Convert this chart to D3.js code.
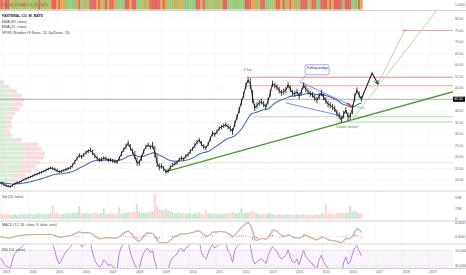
<!DOCTYPE html>
<html><head><meta charset="utf-8">
<script src="https://cdn.jsdelivr.net/npm/d3@7"></script>
<style>body{margin:0;background:#fff;} svg{display:block;font-family:"Liberation Sans",Arial,sans-serif;}</style>
</head><body><svg id="c" width="466" height="275"></svg>
<script>
// ---------------- DATA ----------------
const startYear = 2002.875; // first monthly sample (Nov 2002)
const closes = [
 8.8,8.6,8.0,7.5,7.2,7.1,7.8,8.5,8.8,9.1,9.6,10.2,
 10.6,11.0,11.3,11.8,12.3,12.6,13.0,13.4,13.8,14.3,14.8,15.2,
 15.0,14.6,14.0,13.5,13.8,14.2,14.6,15.0,15.3,16.5,18.0,19.5,
 20.8,20.0,21.0,22.0,22.6,23.0,21.8,20.5,19.5,18.7,18.9,19.6,
 19.2,18.6,18.7,18.3,18.0,17.8,19.5,21.5,23.2,24.5,26.0,24.0,
 22.2,20.0,17.5,17.5,20.0,22.5,24.5,25.2,24.3,25.0,22.0,17.5,
 15.5,16.0,15.0,13.5,13.8,15.5,16.5,17.0,17.5,19.0,19.5,19.0,
 20.5,21.0,22.5,23.5,25.0,26.5,27.4,25.5,24.5,24.0,25.5,28.0,
 30.4,29.8,31.0,32.5,33.0,33.6,34.0,33.0,32.5,31.0,34.5,37.4,
 40.5,44.0,47.0,51.0,53.5,52.0,46.0,41.3,42.5,43.5,44.0,43.0,
 41.7,44.5,47.8,52.0,51.0,50.4,49.0,47.8,48.5,49.0,51.3,49.5,
 47.8,47.5,48.3,46.5,48.5,51.3,49.5,48.5,47.5,47.0,45.5,44.8,
 46.5,47.8,46.0,44.5,43.0,42.5,41.7,41.0,39.0,38.0,36.0,38.5,
 40.4,37.4,38.0,41.0,46.0,49.0,47.0,45.1
];
const highs = [
 9.4,9.3,8.9,8.2,7.8,7.7,8.2,8.9,9.3,9.6,10.1,10.6,
 11.1,11.5,11.9,12.3,12.8,13.2,13.6,14.0,14.4,14.9,15.4,15.9,
 15.8,15.4,14.9,14.2,14.4,14.8,15.2,15.6,16.0,17.2,18.7,20.2,
 21.6,21.0,21.8,22.8,23.4,24.0,23.2,21.6,20.6,19.6,19.8,20.4,
 20.2,19.6,19.6,19.2,18.8,18.6,20.4,22.4,24.2,25.8,27.2,25.6,
 23.6,22.6,19.8,18.8,21.0,23.4,25.4,26.2,25.4,26.6,24.8,21.0,
 17.2,17.2,16.2,14.8,14.9,16.4,17.4,17.9,18.5,19.8,20.4,19.9,
 21.3,22.0,23.4,24.4,26.0,27.4,28.4,27.0,25.6,25.0,26.6,29.0,
 31.4,30.8,32.0,33.4,34.0,34.6,35.0,34.2,33.6,32.6,35.8,38.6,
 41.8,45.4,48.4,52.4,54.6,54.2,49.2,43.2,43.8,44.8,45.4,44.4,
 43.2,46.0,49.4,53.2,52.4,51.8,50.4,49.2,49.8,50.4,52.6,51.2,
 49.2,48.8,49.6,48.0,49.8,52.4,51.0,49.8,48.8,48.2,47.0,46.2,
 47.8,49.0,47.6,46.0,44.4,43.8,43.0,42.4,40.6,39.4,37.6,40.0,
 41.6,39.4,39.2,42.8,47.6,50.2,48.6,46.4
];
const lows = [
 8.3,8.1,7.6,7.1,6.8,6.7,7.0,7.7,8.3,8.6,9.0,9.6,
 10.0,10.4,10.8,11.2,11.6,12.0,12.4,12.8,13.2,13.6,14.1,14.6,
 14.4,13.9,13.3,12.9,13.1,13.6,14.0,14.4,14.7,15.4,16.8,18.4,
 19.6,19.2,20.0,21.0,21.6,22.0,20.8,19.4,18.6,17.8,18.0,18.8,
 18.4,17.8,17.9,17.5,17.2,17.0,18.4,20.4,22.2,23.4,24.6,22.8,
 21.2,19.0,16.2,16.2,18.4,21.2,23.4,24.2,23.2,23.6,19.8,15.6,
 14.2,14.9,13.8,12.8,12.9,14.4,15.6,16.2,16.7,18.0,18.7,18.2,
 19.5,20.2,21.4,22.6,24.0,25.4,26.2,24.6,23.4,23.0,24.6,26.8,
 29.0,28.8,30.0,31.4,32.0,32.6,33.0,32.0,31.0,29.6,33.0,36.0,
 39.0,42.4,45.6,49.4,52.0,49.6,43.4,40.0,41.0,42.2,42.8,41.6,
 40.4,42.8,46.2,50.4,49.8,49.0,47.6,46.6,47.2,47.8,49.8,48.2,
 46.6,46.2,47.0,45.2,47.0,49.8,48.2,47.2,46.2,45.8,44.2,43.4,
 45.0,46.4,44.6,43.0,41.6,41.2,40.4,39.6,37.6,36.6,35.0,36.8,
 38.8,35.8,36.2,38.6,44.0,47.4,45.6,44.0
];
const volumes = [ // millions of shares (weekly-equivalent)
 45,14,11,12,13,10,11,12,10,13,11,12,
 11,12,13,10,12,11,14,12,11,13,12,14,
 33,13,14,12,11,13,12,14,13,15,14,16,
 31,14,13,15,12,13,14,15,12,13,14,25,
 13,12,14,13,12,14,28,13,15,14,16,15,
 17,16,36,18,15,16,14,15,17,18,60,30,
 24,22,20,25,21,18,17,15,14,16,13,14,
 12,13,14,12,15,13,16,14,12,23,13,14,
 12,13,11,12,13,12,14,13,15,18,14,13,
 15,25,14,16,15,17,20,16,13,12,11,13,
 12,14,13,12,11,10,12,11,10,11,12,10,
 11,10,12,11,10,12,11,10,11,9,12,11,
 10,12,13,36,14,12,13,11,15,14,16,13,
 14,15,31,17,20,16,14,13
];
const stripCodes =
 "rrorrgoggogo"+"goggogrgoggo"+"rroroogggggo"+"rggogrrrorog"+"rorroggggrro"+
 "rrgggogorrrr"+"rorogggogoog"+"gggggrrorggo"+"gggogrrggggg"+"gggrrroogorr"+
 "ggggorrorgor"+"ogogrrrgorrg"+"grrrororrrrg"+"rrrgggro";
const vpUp   = [120,220,300,390,430,480,520,540,500,450,260,140,120,140,130,150,180,230,270,280,260,200,110,50];
const vpDown = [100,180,250,310,360,390,440,440,410,380,220,120,100,120,110,130,150,200,230,240,220,170,90,40];
const priceTicks = [10,15,20,25,30,35,40,45,50,55,60,65,70,75,80];
const yearTicks = [2003,2004,2005,2006,2007,2008,2009,2010,2011,2012,2013,2014,2015,2016,2017,2018,2019];
const lastPrice = 45.10;
const hLines = [ // [price, fromYear, color]
 [54.6, 2012.15, "#f4a3a3"], [51.0, 2012.15, "#f4a3a3"], [75.0, 2017.99, "#f4a3a3"],
 [37.5, 2012.4, "#b9dcb0"], [35.2, 2015.5, "#b9dcb0"], [17.5, 2002.8, "#ece3c8"]
];
const trendMain = [[2009.09,13.5],[2019.9,48.4]];
const wedgeUpper = [[2014.16,52.7],[2015.96,43.0]];
const wedgeLower = [[2013.63,43.5],[2015.73,37.8]];
const redMark = [[2015.93,43.5],[2016.11,41.7]];
const forecast = [[2016.458,45.1],[2016.86,56.5],[2017.08,51.7]];
const grayProj = [[2017.08,51.7],[2018.1,75.5]];
const greenProj = [[2016.04,35.2],[2019.3,83.9]];

// ---------------- SETUP ----------------
const svg = d3.select("#c");
const PR = 453;
const times = closes.map((_, i) => startYear + i / 12);
const xs = d3.scaleLinear().domain([2003, 2019]).range([2.7, 429.1]);
const yP = d3.scaleLinear().domain([10, 80]).range([180, 19]);
const yV = d3.scaleLinear().domain([0, 50]).range([219, 198]);
const yM = d3.scaleLinear().domain([0, 4]).range([236.7, 223]);
const yR = d3.scaleLinear().domain([30, 70]).range([266, 250.5]);

const defs = svg.append("defs");
function clip(id, y0, y1) {
  defs.append("clipPath").attr("id", id).append("rect")
    .attr("x", 0).attr("y", y0).attr("width", PR).attr("height", y1 - y0);
}
clip("cMain", 11, 190.5); clip("cVol", 191.5, 220.5); clip("cMacd", 221.5, 243.5); clip("cRsi", 244.5, 268);
function marker(id, color) {
  defs.append("marker").attr("id", id).attr("viewBox", "0 0 10 10").attr("refX", 9).attr("refY", 5)
    .attr("markerWidth", 4).attr("markerHeight", 4).attr("orient", "auto-start-reverse")
    .append("path").attr("d", "M0,0 L10,5 L0,10").attr("fill", "none").attr("stroke", color).attr("stroke-width", 1.6);
}
marker("arBlack", "#222"); marker("arGray", "#aaa");

// indicators (weekly periods applied to monthly samples)
const WPM = 4.33;
function ema(arr, n) { const a = 1 - Math.pow(1 - 2 / (n + 1), WPM); let e = arr[0]; return arr.map((v, i) => i === 0 ? e : (e = e + a * (v - e))); }
const ema89 = ema(closes, 89);
const e12 = ema(closes, 12), e26 = ema(closes, 26);
const macd = e12.map((v, i) => v - e26[i]);
const signal = ema(macd, 9);
const hist = macd.map((v, i) => v - signal[i]);
function rsi(arr, a) {
  let up = 0.4, dn = 0.4; const out = [50];
  for (let i = 1; i < arr.length; i++) {
    const d = arr[i] - arr[i - 1];
    up += a * (Math.max(d, 0) - up); dn += a * (Math.max(-d, 0) - dn);
    out.push(100 - 100 / (1 + up / dn));
  }
  return out;
}
const rsiV = rsi(closes, 1 / 4.5);

// ---------------- GRID ----------------
const grid = svg.append("g").attr("stroke", "#f0f2f5").attr("stroke-width", 0.6);
priceTicks.forEach(p => grid.append("line").attr("x1", 0).attr("x2", PR).attr("y1", yP(p)).attr("y2", yP(p)));
yearTicks.forEach(yr => grid.append("line").attr("x1", xs(yr)).attr("x2", xs(yr)).attr("y1", 11).attr("y2", 268));

// ---------------- TOP STRIP ----------------
const stripCol = { r: "#e4675f", o: "#e6a84a", g: "#95c97d" };
svg.append("g").selectAll("rect").data(times).join("rect")
  .attr("x", d => xs(d - 1 / 24)).attr("width", d => xs(d + 1 / 24) - xs(d - 1 / 24) + 0.2)
  .attr("y", 0).attr("height", 9.5)
  .attr("fill", (d, i) => stripCol[stripCodes[i]] || stripCol.o);

// ---------------- MAIN PANE ----------------
const main = svg.append("g").attr("clip-path", "url(#cMain)");
// VPVR
const pmin = d3.min(closes), pmax = d3.max(closes), rowH = (pmax - pmin) / vpUp.length;
const vpX = d3.scaleLinear().domain([0, 1000]).range([0, 46]);
vpUp.forEach((u, i) => {
  const y0 = yP(pmin + (i + 1) * rowH), y1 = yP(pmin + i * rowH);
  main.append("rect").attr("x", 0).attr("y", y0 + 0.3).attr("width", vpX(u)).attr("height", y1 - y0 - 0.6).attr("fill", "rgba(150,205,150,0.35)");
  main.append("rect").attr("x", vpX(u)).attr("y", y0 + 0.3).attr("width", vpX(vpDown[i])).attr("height", y1 - y0 - 0.6).attr("fill", "rgba(240,160,160,0.35)");
});
// horizontal levels
hLines.forEach(([p, from, col]) => main.append("line").attr("x1", xs(from)).attr("x2", PR)
  .attr("y1", yP(p)).attr("y2", yP(p)).attr("stroke", col).attr("stroke-width", 1.1));
main.append("line").attr("x1", 0).attr("x2", PR).attr("y1", yP(lastPrice)).attr("y2", yP(lastPrice))
  .attr("stroke", "#a8a8a8").attr("stroke-width", 0.9);

const lineP = d3.line().x(d => xs(d[0])).y(d => yP(d[1]));
main.append("path").attr("d", lineP(trendMain)).attr("stroke", "#4e9a3a").attr("stroke-width", 1.3).attr("fill", "none");
main.append("path").attr("d", lineP(greenProj)).attr("stroke", "#a9d08e").attr("stroke-width", 0.8).attr("fill", "none");
main.append("path").attr("d", lineP(grayProj)).attr("stroke", "#bbb").attr("stroke-width", 0.8).attr("fill", "none").attr("marker-end", "url(#arGray)");
main.append("path").attr("d", lineP(wedgeUpper)).attr("stroke", "#7f8cf2").attr("stroke-width", 1).attr("fill", "none");
main.append("path").attr("d", lineP(wedgeLower)).attr("stroke", "#7f8cf2").attr("stroke-width", 1).attr("fill", "none");

// EMA and price
const series = times.map((t, i) => [t, closes[i]]);
main.append("path").attr("d", lineP(times.map((t, i) => [t, ema89[i]])))
  .attr("stroke", "#4a6cb3").attr("stroke-width", 1.1).attr("fill", "none");
main.append("g").selectAll("line").data(times).join("line")
  .attr("x1", d => xs(d)).attr("x2", d => xs(d))
  .attr("y1", (d, i) => yP(highs[i])).attr("y2", (d, i) => yP(lows[i]))
  .attr("stroke", "#111").attr("stroke-width", 0.8);
main.append("path").attr("d", lineP(series)).attr("stroke", "#111").attr("stroke-width", 0.9).attr("fill", "none").attr("stroke-linejoin", "round");
main.append("path").attr("d", lineP(redMark)).attr("stroke", "#e53935").attr("stroke-width", 1.8).attr("fill", "none");
main.append("path").attr("d", lineP(forecast)).attr("stroke", "#222").attr("stroke-width", 1.1).attr("fill", "none").attr("marker-end", "url(#arBlack)");

// annotations
const ann = svg.append("g").attr("font-size", 3.4);
ann.append("text").attr("x", xs(2012.2)).attr("y", yP(57.6)).attr("text-anchor", "middle").attr("fill", "#e53935").text("3 Top");
ann.append("text").attr("x", xs(2015.93)).attr("y", yP(32.4)).attr("text-anchor", "middle").attr("fill", "#4e9a3a").text("Double bottom");
ann.append("text").attr("x", xs(2016.3)).attr("y", yP(41.0)).attr("fill", "#7a9a70").text("Pivot");
const bx = xs(wedgeUpper[0][0]) + 5, by = yP(wedgeUpper[0][1]) - 17;
ann.append("line").attr("x1", xs(wedgeUpper[0][0])).attr("y1", yP(wedgeUpper[0][1])).attr("x2", bx + 1).attr("y2", by + 10).attr("stroke", "#7f8cf2").attr("stroke-width", 0.7);
ann.append("rect").attr("x", bx).attr("y", by).attr("width", 24).attr("height", 10).attr("rx", 1.5)
  .attr("fill", "#fff").attr("stroke", "#7f8cf2").attr("stroke-width", 0.7);
ann.append("text").attr("x", bx + 2).attr("y", by + 4.5).attr("fill", "#333").text("Falling wedge");

// ---------------- VOLUME ----------------
const vol = svg.append("g").attr("clip-path", "url(#cVol)");
vol.selectAll("rect").data(volumes).join("rect")
  .attr("x", (d, i) => xs(times[i] - 1 / 30)).attr("width", xs(2003 + 1 / 15) - xs(2003))
  .attr("y", d => yV(d)).attr("height", d => yV(0) - yV(d))
  .attr("fill", (d, i) => (i === 0 || closes[i] >= closes[i - 1]) ? "rgba(110,190,130,0.4)" : "rgba(235,130,120,0.35)");

// ---------------- MACD ----------------
const mg = svg.append("g").attr("clip-path", "url(#cMacd)");
mg.selectAll("rect").data(hist).join("rect")
  .attr("x", (d, i) => xs(times[i]) - 0.4).attr("width", 0.8)
  .attr("y", d => Math.min(yM(0), yM(d))).attr("height", d => Math.abs(yM(d) - yM(0)))
  .attr("fill", "#f06292");
const lineM = d3.line().x((d, i) => xs(times[i])).y(d => yM(d));
mg.append("path").attr("d", lineM(macd)).attr("stroke", "#6ec6f5").attr("stroke-width", 0.9).attr("fill", "none");
mg.append("path").attr("d", lineM(signal)).attr("stroke", "#f7a35c").attr("stroke-width", 0.9).attr("fill", "none");

// ---------------- RSI ----------------
const rg = svg.append("g").attr("clip-path", "url(#cRsi)");
rg.append("rect").attr("x", 0).attr("width", PR).attr("y", yR(70)).attr("height", yR(30) - yR(70)).attr("fill", "rgba(156,39,176,0.05)");
[70, 30].forEach(v => rg.append("line").attr("x1", 0).attr("x2", PR).attr("y1", yR(v)).attr("y2", yR(v)).attr("stroke", "#cfc6dc").attr("stroke-width", 0.6).attr("stroke-dasharray", "2,1"));
rg.append("path").attr("d", d3.line().x((d, i) => xs(times[i])).y(d => yR(d))(rsiV))
  .attr("stroke", "#b574d6").attr("stroke-width", 0.9).attr("fill", "none");

// ---------------- SEPARATORS ----------------
[10.5, 191, 221, 244, 268.3].forEach(y => svg.append("line").attr("x1", 0).attr("x2", 466).attr("y1", y).attr("y2", y).attr("stroke", "#d3d3d3").attr("stroke-width", 1.2));

// ---------------- TEXT ----------------
const tx = svg.append("g").attr("font-size", 3.5).attr("fill", "#444");
tx.append("text").attr("x", 2).attr("y", 6.2).attr("fill", "#555").text("DX_14, 0.5604, 0.1, 12, 10, 5");
tx.append("text").attr("x", 2).attr("y", 17).attr("font-weight", "bold").attr("fill", "#222").text("FASTENAL CO, W, BATS");
tx.append("text").attr("x", 2).attr("y", 22.6).text("EMA (89, close)");
tx.append("text").attr("x", 2).attr("y", 28.2).text("EMA (21, close)");
tx.append("text").attr("x", 2).attr("y", 33.8).text("VPVR (Number Of Rows, 24, Up/Down, 70)");
tx.append("text").attr("x", 2).attr("y", 197.5).text("Vol (20, false)");
tx.append("text").attr("x", 2).attr("y", 226).text("MACD (12, 26, close, 9, false, true)");
tx.append("text").attr("x", 2).attr("y", 250.5).text("RSI (14, close)");

const ax = svg.append("g").attr("font-size", 3.3).attr("fill", "#666");
const f2 = d3.format(".2f");
priceTicks.filter(p => Math.abs(p - lastPrice) > 2).forEach(p => ax.append("text").attr("x", 455).attr("y", yP(p) + 1.2).text(f2(p)));
ax.append("text").attr("x", 455).attr("y", 6).text("1.0000");
[[50, "50M"], [25, "25M"], [0, "0"]].forEach(([v, l]) => ax.append("text").attr("x", 455).attr("y", yV(v) + 1.2).text(l));
[[4, "4.0000"], [0, "0.0000"]].forEach(([v, l]) => ax.append("text").attr("x", 455).attr("y", yM(v) + 1.2).text(l));
[[70, "70.0000"], [30, "30.0000"]].forEach(([v, l]) => ax.append("text").attr("x", 455).attr("y", yR(v) + 1.2).text(l));
yearTicks.forEach(yr => ax.append("text").attr("x", xs(yr)).attr("y", 272.5).text(yr));
svg.append("rect").attr("x", 453).attr("y", yP(lastPrice) - 2.6).attr("width", 12).attr("height", 5.2).attr("fill", "#111");
svg.append("text").attr("x", 454.3).attr("y", yP(lastPrice) + 1.2).attr("font-size", 3.3).attr("fill", "#fff").text(f2(lastPrice));
</script></body></html>
